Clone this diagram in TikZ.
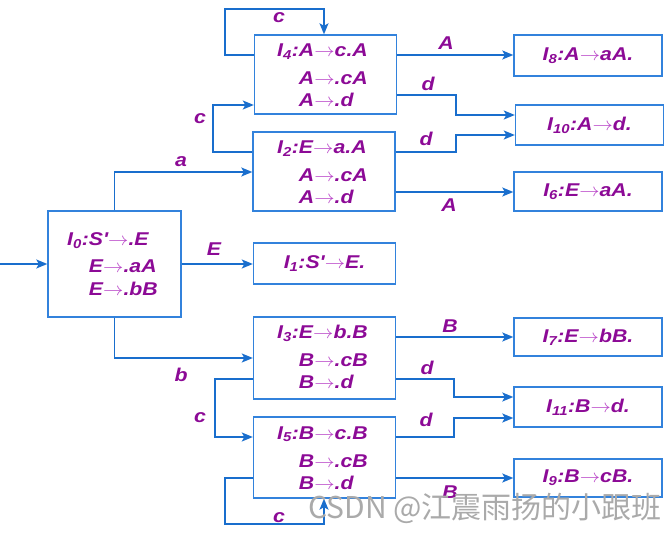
\documentclass[tikz,border=0pt]{standalone}
\usepackage{fix-cm}
\usepackage{fontspec}
\setmainfont{Liberation Sans}
\newfontfamily\lblfont{Liberation Sans}[FakeStretch=1.15]
\newfontfamily\cjkfont{Noto Sans CJK SC}
\usetikzlibrary{arrows.meta}
\definecolor{txtpurple}{RGB}{140,10,150}
\definecolor{arrpurple}{RGB}{185,70,200}
\definecolor{lineblue}{RGB}{25,110,205}
\definecolor{boxblue}{RGB}{50,130,220}
\definecolor{wmgray}{RGB}{170,170,170}
\newcommand{\myarr}{\textcolor{arrpurple}{\scalebox{1.1}[1]{$\rightarrow$}}}
\tikzset{
  lbl/.style={text=txtpurple, inner sep=0pt, font=\lblfont\bfseries\itshape\fontsize{18.5}{22}\selectfont},
  box/.style={draw=boxblue, line width=1.4pt, inner sep=0pt, lbl},
  lbox/.style={box, minimum width=142pt},
  rbox/.style={box, minimum width=148pt},
  conn/.style={draw=lineblue, line width=1.4pt, -{Stealth[length=11pt,width=9pt,inset=2.5pt]}},
  wm/.style={text=wmgray, inner sep=0pt, font=\cjkfont\fontsize{30}{33}\selectfont}
}
\begin{document}
\begin{tikzpicture}[x=1pt,y=-1pt]
\useasboundingbox (0,0) rectangle (672,534);
% boxes
\node[box, minimum width=133pt, minimum height=106pt] (I0) at (114.5,264) {};
\node[lbox, minimum height=79pt] (I4) at (325.5,74.5) {};
\node[lbox, minimum height=79pt] (I2) at (324,171.5) {};
\node[lbox, minimum height=41pt] (I1) at (324.5,263.5) {I\textsubscript{1}:S'\myarr E.};
\node[lbox, minimum height=82pt] (I3) at (324.5,358) {};
\node[lbox, minimum height=81pt] (I5) at (324.5,457.5) {};
\node[rbox, minimum height=41pt] (I8) at (588,55.5) {I\textsubscript{8}:A\myarr aA.};
\node[rbox, minimum height=40pt] (I10) at (589.5,125) {I\textsubscript{10}:A\myarr d.};
\node[rbox, minimum height=39pt] (I6) at (588,191.5) {I\textsubscript{6}:E\myarr aA.};
\node[rbox, minimum height=38pt] (I7) at (588,337) {I\textsubscript{7}:E\myarr bB.};
\node[rbox, minimum height=40pt] (I11) at (588,407) {I\textsubscript{11}:B\myarr d.};
\node[rbox, minimum height=38pt] (I9) at (588,478) {I\textsubscript{9}:B\myarr cB.};
% box texts
\node[lbl, anchor=base west] (t0a) at (67,246) {I\textsubscript{0}:S'\myarr .E};
\node[lbl, anchor=base west] (t0b) at (67,273) {\phantom{I\textsubscript{0}:}E\myarr .aA};
\node[lbl, anchor=base west] (t0c) at (67,296) {\phantom{I\textsubscript{0}:}E\myarr .bB};
\node[lbl, anchor=base west] (t4a) at (277,57) {I\textsubscript{4}:A\myarr c.A};
\node[lbl, anchor=base west] (t4b) at (277,85) {\phantom{I\textsubscript{4}:}A\myarr .cA};
\node[lbl, anchor=base west] (t4c) at (277,107) {\phantom{I\textsubscript{4}:}A\myarr .d};
\node[lbl, anchor=base west] (t2a) at (277,154) {I\textsubscript{2}:E\myarr a.A};
\node[lbl, anchor=base west] (t2b) at (277,182) {\phantom{I\textsubscript{2}:}A\myarr .cA};
\node[lbl, anchor=base west] (t2c) at (277,204) {\phantom{I\textsubscript{2}:}A\myarr .d};
\node[lbl, anchor=base west] (t3a) at (277,339) {I\textsubscript{3}:E\myarr b.B};
\node[lbl, anchor=base west] (t3b) at (277,367) {\phantom{I\textsubscript{3}:}B\myarr .cB};
\node[lbl, anchor=base west] (t3c) at (277,389) {\phantom{I\textsubscript{3}:}B\myarr .d};
\node[lbl, anchor=base west] (t5a) at (277,439) {I\textsubscript{5}:B\myarr c.B};
\node[lbl, anchor=base west] (t5b) at (277,467) {\phantom{I\textsubscript{5}:}B\myarr .cB};
\node[lbl, anchor=base west] (t5c) at (277,489) {\phantom{I\textsubscript{5}:}B\myarr .d};
% connectors
\coordinate (start) at (0,264);
\draw[conn] (start) -- (I0.west |- start);
\draw[conn] (I0.east |- 0,264) -- (I1.west |- 0,264);
\draw[conn] (I0.north) -- (114.5,172) -- (I2.west |- 0,172);
\draw[conn] (I0.south) -- (114.5,358) -- (I3.west |- 0,358);
\draw[conn] (I2.west |- 0,152) -- (213,152) -- (213,105) -- (I4.west |- 0,105);
\draw[conn] (I4.west |- 0,55) -- (225,55) -- (225,9) -- (324,9) -- (I4.north -| 324,0);
\draw[conn] (I4.east |- 0,55) -- (I8.west |- 0,55);
\draw[conn] (I4.east |- 0,95) -- (456,95) -- (456,115) -- (I10.west |- 0,115);
\draw[conn] (I2.east |- 0,152) -- (456,152) -- (456,135) -- (I10.west |- 0,135);
\draw[conn] (I2.east |- 0,192) -- (I6.west |- 0,192);
\draw[conn] (I3.east |- 0,337) -- (I7.west |- 0,337);
\draw[conn] (I3.east |- 0,379) -- (454,379) -- (454,397) -- (I11.west |- 0,397);
\draw[conn] (I5.east |- 0,437) -- (454,437) -- (454,418) -- (I11.west |- 0,418);
\draw[conn] (I5.east |- 0,478) -- (I9.west |- 0,478);
\draw[conn] (I3.west |- 0,379) -- (215,379) -- (215,437) -- (I5.west |- 0,437);
\draw[conn] (I5.west |- 0,478) -- (225,478) -- (225,524) -- (324,524) -- (I5.south -| 324,0);
% edge labels
\node[lbl] (lE) at (214,249) {E};
\node[lbl] (la) at (181,162) {a};
\node[lbl] (lb) at (181,375) {b};
\node[lbl] (lc1) at (200,119) {c};
\node[lbl] (lc2) at (279,18) {c};
\node[lbl] (lA1) at (446,43) {A};
\node[lbl] (ld1) at (428,84) {d};
\node[lbl] (ld2) at (426,139) {d};
\node[lbl] (lA2) at (449,205) {A};
\node[lbl] (lB1) at (450,326) {B};
\node[lbl] (ld3) at (427,368) {d};
\node[lbl] (lc3) at (200,418) {c};
\node[lbl] (ld4) at (426,420) {d};
\node[lbl] (lB2) at (450,492) {B};
\node[lbl] (lc4) at (279,518) {c};
% watermark
\node[wm, anchor=base west] (wmark) at (308,518) {CSDN @江震雨扬的小跟班};
\end{tikzpicture}
\end{document}
